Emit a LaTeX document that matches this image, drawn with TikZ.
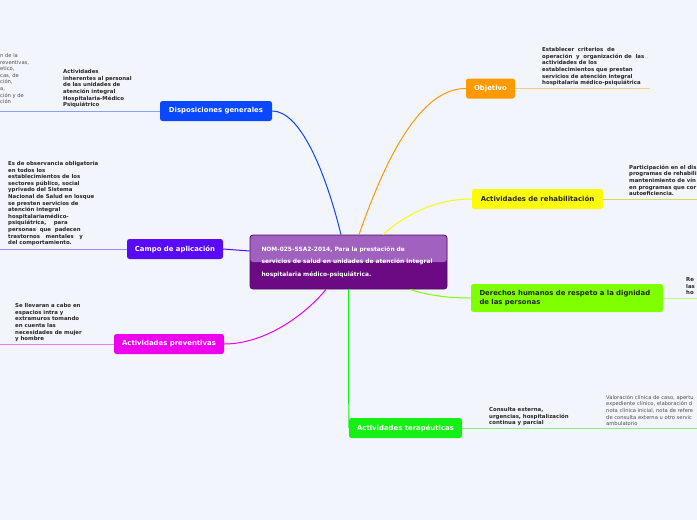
\documentclass[tikz,border=0pt]{standalone}
\usepackage{fontspec}
\setmainfont{DejaVu Sans}
\usepackage{xcolor}
\definecolor{bgcolor}{RGB}{243,245,253}
\definecolor{rootdark}{RGB}{108,10,132}
\definecolor{rootlight}{RGB}{160,98,190}
\definecolor{rootborder}{RGB}{80,10,100}
\definecolor{cobjetivo}{RGB}{255,153,0}
\definecolor{crehab}{RGB}{250,250,10}
\definecolor{cderechos}{RGB}{128,255,0}
\definecolor{cterap}{RGB}{20,240,20}
\definecolor{cprev}{RGB}{238,0,238}
\definecolor{ccampo}{RGB}{90,10,250}
\definecolor{cdisp}{RGB}{10,72,255}

\begin{document}
\begin{tikzpicture}[x=1pt, y=-1pt]
    % Define styles
    \tikzstyle{root} = [rectangle, rounded corners=3pt, draw=rootborder, line width=0.8pt, fill=rootdark, minimum width=197, minimum height=54, text width=174, align=left, text=white, font=\bfseries\fontsize{5.9}{12.5}\selectfont, path picture={\fill[rootlight] (path picture bounding box.north west) rectangle (path picture bounding box.east);}]
    \tikzstyle{topic} = [rectangle, rounded corners=2.5pt, minimum height=20, inner xsep=3pt, text centered, text=white, font=\bfseries\fontsize{6.9}{9}\selectfont]
    \tikzstyle{note} = [inner sep=0pt, align=left, anchor=south west, text=black!85, font=\bfseries\fontsize{5.4}{6.6}\selectfont]
    \tikzstyle{plain} = [inner sep=0pt, align=left, anchor=south west, text=black!70, font=\fontsize{5.2}{6.6}\selectfont]
    \tikzstyle{branch} = [line width=1pt]
    \tikzstyle{leaf} = [line width=0.6pt]

    \fill [bgcolor] (0,0) rectangle (697,520);
    \useasboundingbox (0,0) rectangle (697,520);
    \clip (0,0) rectangle (697,520);

    % Nodes
    \node (root) [root] at (348.5,262) {NOM-025-SSA2-2014, Para la prestación de\\servicios de salud en unidades de atención integral\\hospitalaria médico-psiquiátrica.};
    \node (objetivo) [topic, fill=cobjetivo, minimum width=49] at (490.5,88.5) {Objetivo};
    \node (rehab) [topic, fill=crehab, text=black!85, minimum width=131] at (537.5,199) {Actividades de rehabilitación};
    \node (derechos) [topic, fill=cderechos, text=black!85, minimum width=192, minimum height=28, text width=175, align=left] at (567,298) {Derechos humanos de respeto a la dignidad\\de las personas};
    \node (terapeuticas) [topic, fill=cterap, minimum width=113] at (405.5,428) {Actividades terapéuticas};
    \node (preventivas) [topic, fill=cprev, minimum width=110] at (169,344) {Actividades preventivas};
    \node (campo) [topic, fill=ccampo, minimum width=96] at (175,249) {Campo de aplicación};
    \node (disposiciones) [topic, fill=cdisp, minimum width=112] at (216,111) {Disposiciones generales};

    % Arrows
    \draw [branch, draw=cdisp] (disposiciones.east) .. controls (300,111) and (325,170) .. ([xshift=-7.5]root.north);
    \draw [branch, draw=cobjetivo] ([xshift=10.5]root.north) .. controls (385,160) and (420,88) .. (objetivo.west);
    \draw [branch, draw=crehab] ([xshift=34.5]root.north) .. controls (405,215) and (435,199) .. (rehab.west);
    \draw [branch, draw=cderechos] ([xshift=61.5]root.south) .. controls (430,296) and (450,298) .. (derechos.west);
    \draw [branch, draw=cterap] (root.south) -- (terapeuticas.west);
    \draw [branch, draw=cprev] ([xshift=-22.5]root.south) .. controls (305,315) and (265,344) .. (preventivas.east);
    \draw [branch, draw=ccampo] ([yshift=11]root.west) -- (campo.east);

    % Details
    \coordinate (objetivo_end) at (650,88.5);
    \coordinate (rehab_end) at (697,199);
    \coordinate (derechos_end) at (697,298);
    \coordinate (terapeuticas_end) at (697,428);
    \coordinate (preventivas_end) at (0,344);
    \coordinate (campo_end) at (0,249);
    \coordinate (disposiciones_end) at (0,111);
    \draw [leaf, draw=cobjetivo!50] (objetivo.east) -- (objetivo_end);
    \draw [leaf, draw=crehab!80!black!70] (rehab.east) -- (rehab_end);
    \draw [leaf, draw=cderechos!50] (derechos.east) -- (derechos_end);
    \draw [leaf, draw=cterap!55] (terapeuticas.east) -- (terapeuticas_end);
    \draw [leaf, draw=cprev!55] (preventivas.west) -- (preventivas_end);
    \draw [leaf, draw=ccampo!50] (campo.west) -- (campo_end);
    \draw [leaf, draw=cdisp!50] (disposiciones.west) -- (disposiciones_end);

    \node (objetivo_note) [note] at (542,86) {Establecer \ criterios \ de\\operación \ y \ organización de \ las\\actividades de los\\establecimientos que prestan\\servicios de atención integral\\hospitalaria médico-psiquiátrica};
    \node (rehab_note) [note] at (629,196) {Participación en el dis\\programas de rehabili\\mantenimiento de vín\\en programas que cor\\autoeficiencia.};
    \node (derechos_note) [note] at (686,295) {Re\\las\\ho};
    \node (terapeuticas_note) [note] at (489,426) {Consulta externa,\\urgencias, hospitalización\\continua y parcial};
    \node (terapeuticas_detail) [plain] at (606,426) {Valoración clínica de caso, apertu\\expediente clínico, elaboración d\\nota clínica inicial, nota de refere\\de consulta externa u otro servic\\ambulatorio};
    \node (preventivas_note) [note] at (15,342) {Se llevaran a cabo en\\espacios intra y\\extramuros tomando\\en cuenta las\\necesidades de mujer\\y hombre};
    \node (campo_note) [note] at (8,246) {Es de observancia obligatoria\\en todos los\\establecimientos de los\\sectores público, social\\yprivado del Sistema\\Nacional de Salud en losque\\se presten servicios de\\atención integral\\hospitalariamédico-\\psiquiátrica, \ \ \ para\\personas \ que \ padecen\\trastornos \ \ mentales \ \ y\\del comportamiento.};
    \node (disposiciones_note) [note] at (63,108) {Actividades\\inherentes al personal\\de las unidades de\\atención integral\\Hospitalaria-Médico\\Psiquiátrico};
    \node (disposiciones_detail) [plain] at (0,104) {n de la\\reventivas,\\etico,\\cas, de\\ción,\\a,\\ción y de\\ción};
\end{tikzpicture}
\end{document}
